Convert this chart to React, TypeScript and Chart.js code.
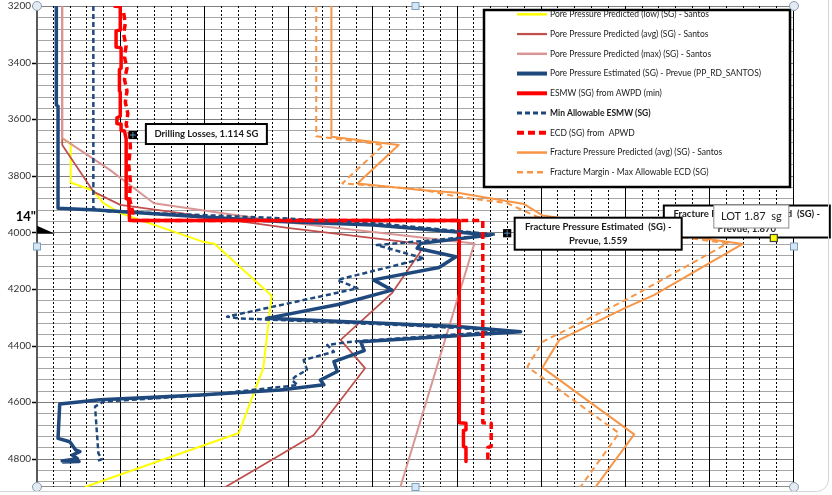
import React, { useEffect, useRef } from "react";
import { Chart, registerables } from "chart.js";

Chart.register(...registerables);

// ---------- axes ----------
const SG_MIN = 1.0;
const SG_MAX = 1.9;
const DEPTH_MIN = 3200;
const DEPTH_MAX = 4900;
const depthTickLabels = [3200, 3400, 3600, 3800, 4000, 4200, 4400, 4600, 4800];
const depthGridStep = 40;
const sgGridStep = 0.02;
const sgMajorEvery = 5;

// ---------- series names ----------
const seriesNames = [
  "Pore Pressure Predicted (low) (SG) - Santos",
  "Pore Pressure Predicted (avg) (SG) - Santos",
  "Pore Pressure Predicted (max) (SG) - Santos",
  "Pore Pressure Estimated (SG) - Prevue (PP_RD_SANTOS)",
  "ESMW (SG) from AWPD (min)",
  "Min Allowable ESMW (SG)",
  "ECD (SG) from  APWD",
  "Fracture Pressure Predicted (avg) (SG) - Santos",
  "Fracture Margin - Max Allowable ECD (SG)",
];

// ---------- series values (depth m, SG) ----------
const ppLowDepth = [3668, 3688, 3824, 3853, 3897, 3932, 4032, 4040, 4224, 4480, 4709, 4900];
const ppLowSG = [1.03, 1.04, 1.04, 1.067, 1.079, 1.099, 1.196, 1.211, 1.279, 1.269, 1.24, 1.057];

const ppAvgDepth = [3200, 3691, 3856, 3903, 3985, 4039, 4068, 4215, 4380, 4480, 4716, 4787, 4900];
const ppAvgSG = [1.03, 1.03, 1.067, 1.099, 1.3, 1.452, 1.456, 1.422, 1.361, 1.39, 1.329, 1.289, 1.224];

const ppMaxDepth = [3200, 3667, 3780, 3897, 3962, 4039, 4900];
const ppMaxSG = [1.03, 1.03, 1.087, 1.139, 1.289, 1.52, 1.432];

const ppPrevueDepth = [
  3200, 3550, 3555, 3915, 3921, 3945, 3962, 3974, 3998, 4009, 4039, 4056, 4086, 4124, 4168, 4204,
  4253, 4304, 4333, 4351, 4387, 4418, 4457, 4492, 4522, 4539, 4557, 4575, 4592, 4607, 4728, 4740,
  4769, 4775, 4787, 4800, 4808, 4810, 4812,
];
const ppPrevueSG = [
  1.023, 1.023, 1.025, 1.025, 1.071, 1.194, 1.289, 1.4, 1.496, 1.539, 1.456, 1.452, 1.498, 1.478,
  1.4, 1.422, 1.361, 1.273, 1.5, 1.575, 1.385, 1.389, 1.353, 1.357, 1.337, 1.341, 1.289, 1.194,
  1.075, 1.027, 1.025, 1.039, 1.046, 1.051, 1.042, 1.048, 1.03, 1.05, 1.03,
];

const esmwDepth = [
  3200, 3203, 3285, 3288, 3345, 3348, 3420, 3425, 3500, 3505, 3590, 3595, 3615, 3618, 3640, 3642,
  3670, 3880, 3885, 3958, 3958, 4673, 4675, 4698, 4700, 4757, 4760, 4810,
];
const esmwSG = [
  1.091, 1.099, 1.099, 1.094, 1.094, 1.1, 1.1, 1.098, 1.098, 1.099, 1.099, 1.095, 1.095, 1.1, 1.1,
  1.104, 1.106, 1.106, 1.109, 1.11, 1.502, 1.502, 1.51, 1.51, 1.507, 1.507, 1.51, 1.51,
];

const minEsmwDepth = [
  3200, 3915, 3925, 3950, 3968, 3995, 4008, 4045, 4092, 4168, 4198, 4298, 4304, 4330, 4348, 4386,
  4398, 4422, 4451, 4486, 4510, 4522, 4540, 4575, 4598, 4616, 4781, 4802, 4810,
];
const minEsmwSG = [
  1.067, 1.067, 1.08, 1.289, 1.404, 1.5, 1.545, 1.404, 1.46, 1.357, 1.381, 1.226, 1.24, 1.45, 1.56,
  1.375, 1.345, 1.353, 1.317, 1.321, 1.307, 1.303, 1.31, 1.2, 1.079, 1.069, 1.073, 1.077, 1.069,
];

const ecdDepth = [
  3225, 3260, 3300, 3340, 3380, 3420, 3460, 3500, 3540, 3580, 3620, 3650, 3700, 3760, 3820, 3880,
  3930, 3958, 3958, 4673, 4675, 4757, 4760, 4805,
];
const ecdSG = [
  1.103, 1.105, 1.103, 1.106, 1.104, 1.107, 1.104, 1.107, 1.105, 1.108, 1.106, 1.11, 1.111, 1.109,
  1.111, 1.11, 1.114, 1.114, 1.53, 1.53, 1.54, 1.54, 1.536, 1.536,
];

const fracAvgDepth = [3200, 3662, 3691, 3827, 3850, 3860, 3900, 3940, 4041, 4221, 4266, 4380, 4478, 4714, 4900];
const fracAvgSG = [1.35, 1.35, 1.43, 1.381, 1.456, 1.5, 1.579, 1.601, 1.839, 1.734, 1.7, 1.621, 1.601, 1.71, 1.664];

const fracMarginDepth = [3200, 3660, 3691, 3827, 3848, 3874, 3897, 3945, 4039, 4239, 4387, 4475, 4710, 4900];
const fracMarginSG = [1.332, 1.332, 1.412, 1.363, 1.456, 1.5, 1.559, 1.595, 1.821, 1.7, 1.601, 1.583, 1.692, 1.646];

// ---------- annotations ----------
const calloutSG = [1.114, 1.559, 1.876];
const calloutDepth = [3656, 4003, 4020];
const calloutLines = [
  ["Drilling Losses, 1.114 SG"],
  ["Fracture Pressure Estimated  (SG) -", "Prevue, 1.559"],
  ["Fracture Pressure Estimated  (SG) -", "Prevue, 1.870"],
];
const lotText = "LOT 1.87  sg";
const shoeDepth = 4005;
const shoeLabel = '14"';

const seriesSGList = [ppLowSG, ppAvgSG, ppMaxSG, ppPrevueSG, esmwSG, minEsmwSG, ecdSG, fracAvgSG, fracMarginSG];
const seriesDepthList = [ppLowDepth, ppAvgDepth, ppMaxDepth, ppPrevueDepth, esmwDepth, minEsmwDepth, ecdDepth, fracAvgDepth, fracMarginDepth];

const seriesStyles = [
  { color: "#FFFF00", width: 2, dash: [] as number[] },
  { color: "#C0504D", width: 1.75, dash: [] as number[] },
  { color: "#D99694", width: 2, dash: [] as number[] },
  { color: "#1F497D", width: 3.5, dash: [] as number[] },
  { color: "#FF0000", width: 3.5, dash: [] as number[] },
  { color: "#1F497D", width: 2.5, dash: [5, 3] },
  { color: "#FF0000", width: 3.5, dash: [7, 4] },
  { color: "#F79646", width: 2, dash: [] as number[] },
  { color: "#F79646", width: 2, dash: [6, 4] },
];

const FONT = "Lato, 'Liberation Sans', sans-serif";

const gridPlugin = {
  id: "wellGrid",
  beforeDraw(chart: any) {
    const { ctx, width, height } = chart;
    ctx.save();
    ctx.fillStyle = "#ffffff";
    ctx.fillRect(0, 0, width, height);
    ctx.restore();
  },
  beforeDatasetsDraw(chart: any) {
    const { ctx, chartArea, scales } = chart;
    const xs = scales.x;
    const ys = scales.y;
    const { left, right, top, bottom } = chartArea;
    ctx.save();
    ctx.lineWidth = 1;
    for (let d = DEPTH_MIN; d < DEPTH_MAX - 1e-6; d += depthGridStep) {
      const py = Math.round(ys.getPixelForValue(d)) + 0.5;
      ctx.strokeStyle = d % 200 === 0 ? "#7f7f7f" : "#a6a6a6";
      ctx.beginPath();
      ctx.moveTo(left, py);
      ctx.lineTo(right, py);
      ctx.stroke();
    }
    ctx.strokeStyle = "#8c8c8c";
    ctx.beginPath();
    ctx.moveTo(left, Math.round(bottom) - 0.5);
    ctx.lineTo(right, Math.round(bottom) - 0.5);
    ctx.stroke();
    const n = Math.round((SG_MAX - SG_MIN) / sgGridStep);
    ctx.strokeStyle = "#000000";
    for (let i = 1; i <= n; i++) {
      const v = SG_MIN + i * sgGridStep;
      const px = Math.round(xs.getPixelForValue(v)) - 0.5;
      const major = i % sgMajorEvery === 0;
      ctx.setLineDash(major ? [] : [2, 2]);
      ctx.beginPath();
      ctx.moveTo(px, top);
      ctx.lineTo(px, bottom);
      ctx.stroke();
    }
    ctx.setLineDash([]);
    ctx.strokeStyle = "#595959";
    ctx.lineWidth = 2;
    ctx.beginPath();
    ctx.moveTo(left, top);
    ctx.lineTo(left, bottom);
    ctx.stroke();
    ctx.strokeStyle = "#000000";
    ctx.lineWidth = 1.5;
    depthTickLabels.forEach((d) => {
      const py = Math.round(ys.getPixelForValue(d)) + 0.5;
      ctx.beginPath();
      ctx.moveTo(left - 5, py);
      ctx.lineTo(left - 1, py);
      ctx.stroke();
    });
    ctx.restore();
  },
};

function drawBoxText(ctx: any, lines: string[], bx: number, by: number, bw: number, bh: number, font: string) {
  ctx.fillStyle = "#ffffff";
  ctx.fillRect(bx, by, bw, bh);
  ctx.strokeStyle = "#000000";
  ctx.lineWidth = 2;
  ctx.strokeRect(bx, by, bw, bh);
  ctx.fillStyle = "#1a1a1a";
  ctx.font = font;
  ctx.textAlign = "center";
  ctx.textBaseline = "middle";
  const cx = bx + bw / 2;
  const lh = 14.3;
  const y0 = by + bh / 2 - ((lines.length - 1) * lh) / 2;
  lines.forEach((t, i) => ctx.fillText(t, cx, y0 + i * lh, bw - 6));
}

function drawMarker(ctx: any, px: number, py: number, fill: string, stroke: string) {
  ctx.fillStyle = fill;
  ctx.fillRect(px - 3.5, py - 3.5, 7, 7);
  ctx.strokeStyle = stroke;
  ctx.lineWidth = 1.2;
  ctx.strokeRect(px - 3.5, py - 3.5, 7, 7);
}

const overlayPlugin = {
  id: "wellOverlay",
  afterDatasetsDraw(chart: any) {
    const { ctx, chartArea, scales } = chart;
    const xs = scales.x;
    const ys = scales.y;
    const { left, right, top, bottom } = chartArea;
    ctx.save();

    // casing shoe
    const sy = ys.getPixelForValue(shoeDepth);
    ctx.fillStyle = "#000000";
    ctx.beginPath();
    ctx.moveTo(left, sy - 8);
    ctx.lineTo(left, sy);
    ctx.lineTo(left + 18, sy);
    ctx.closePath();
    ctx.fill();
    ctx.font = "bold 13px " + FONT;
    ctx.textAlign = "right";
    ctx.textBaseline = "middle";
    ctx.fillText(shoeLabel, left - 1, sy - 17);

    // callout 1
    let mx = xs.getPixelForValue(calloutSG[0]);
    let my = ys.getPixelForValue(calloutDepth[0]);
    drawBoxText(ctx, calloutLines[0], mx + 13, my - 11, 121, 20, "bold 9.5px " + FONT);
    drawMarker(ctx, mx, my, "#000000", "#000000");
    ctx.strokeStyle = "#6fa8dc";
    ctx.lineWidth = 0.8;
    ctx.beginPath();
    ctx.moveTo(mx - 3, my); ctx.lineTo(mx + 3, my);
    ctx.moveTo(mx, my - 3); ctx.lineTo(mx, my + 3);
    ctx.stroke();

    // callout 3 (behind LOT)
    mx = xs.getPixelForValue(calloutSG[2]);
    my = ys.getPixelForValue(calloutDepth[2]);
    drawBoxText(ctx, calloutLines[2], mx - 110, my - 32.5, 166, 32, "bold 9.5px " + FONT);
    // LOT label
    ctx.fillStyle = "#ffffff";
    ctx.fillRect(mx - 60, my - 33, 75, 23);
    ctx.strokeStyle = "#8c8c8c";
    ctx.lineWidth = 1;
    ctx.strokeRect(mx - 60, my - 33, 75, 23);
    ctx.fillStyle = "#222222";
    ctx.font = "11px " + FONT;
    ctx.textAlign = "center";
    ctx.textBaseline = "middle";
    ctx.fillText(lotText, mx - 22.5, my - 21.5);
    drawMarker(ctx, mx, my, "#FFFF00", "#404040");

    // callout 2
    mx = xs.getPixelForValue(calloutSG[1]);
    my = ys.getPixelForValue(calloutDepth[1]);
    drawBoxText(ctx, calloutLines[1], mx + 7.5, my - 15.5, 167, 32, "bold 9.5px " + FONT);
    drawMarker(ctx, mx, my, "#000000", "#000000");
    ctx.strokeStyle = "#6fa8dc";
    ctx.lineWidth = 0.8;
    ctx.beginPath();
    ctx.moveTo(mx - 3, my); ctx.lineTo(mx + 3, my);
    ctx.moveTo(mx, my - 3); ctx.lineTo(mx, my + 3);
    ctx.stroke();

    // legend
    const lx = right - 310;
    const ly = top + 4;
    const lw = 306;
    const lh = 177;
    ctx.fillStyle = "#ffffff";
    ctx.fillRect(lx, ly, lw, lh);
    ctx.strokeStyle = "#000000";
    ctx.lineWidth = 2.5;
    ctx.strokeRect(lx, ly, lw, lh);
    seriesNames.forEach((name, i) => {
      const st = seriesStyles[i];
      const ry = ly + 4.3 + i * 19.75;
      ctx.save();
      ctx.beginPath();
      ctx.rect(lx + 1, ly + 1, lw - 2, lh - 2);
      ctx.clip();
      ctx.strokeStyle = st.color;
      ctx.lineWidth = st.width + 0.5;
      ctx.setLineDash(st.dash);
      ctx.beginPath();
      ctx.moveTo(lx + 33, ry);
      ctx.lineTo(lx + 63, ry);
      ctx.stroke();
      ctx.setLineDash([]);
      ctx.fillStyle = "#1a1a1a";
      ctx.font = (i === 5 ? "bold " : "") + "8.5px " + FONT;
      ctx.textAlign = "left";
      ctx.textBaseline = "middle";
      ctx.fillText(name, lx + 66, ry);
      ctx.restore();
    });

    // selection handles
    const cxm = (left + right) / 2;
    const cym = (top + bottom) / 2;
    const circ = [[left, top], [right, top], [left, bottom], [right, bottom]];
    circ.forEach(([hx, hy]) => {
      ctx.beginPath();
      ctx.arc(hx, hy, 4.5, 0, Math.PI * 2);
      ctx.fillStyle = "#e4eaf1";
      ctx.fill();
      ctx.strokeStyle = "#8a9db3";
      ctx.lineWidth = 1;
      ctx.stroke();
    });
    const sq = [[cxm, top], [cxm, bottom], [left, cym], [right, cym]];
    sq.forEach(([hx, hy]) => {
      ctx.fillStyle = "#d3e7f6";
      ctx.fillRect(hx - 3.5, hy - 3.5, 7, 7);
      ctx.strokeStyle = "#7f9fbd";
      ctx.lineWidth = 1;
      ctx.strokeRect(hx - 3.5, hy - 3.5, 7, 7);
    });

    // outer chart border (rounded)
    ctx.strokeStyle = "#d4d4d4";
    ctx.lineWidth = 1;
    ctx.beginPath();
    ctx.moveTo(828.5, 0);
    ctx.lineTo(828.5, 479);
    ctx.arcTo(828.5, 491.5, 816, 491.5, 12);
    ctx.lineTo(0, 491.5);
    ctx.stroke();

    ctx.restore();
  },
};

export default function App() {
  const canvasRef = useRef<HTMLCanvasElement | null>(null);

  useEffect(() => {
    if (!canvasRef.current) return;
    const datasets = seriesNames.map((name, i) => ({
      label: name,
      data: seriesSGList[i].map((v, k) => ({ x: v, y: seriesDepthList[i][k] })),
      showLine: true,
      borderColor: seriesStyles[i].color,
      backgroundColor: seriesStyles[i].color,
      borderWidth: seriesStyles[i].width,
      borderDash: seriesStyles[i].dash,
      borderJoinStyle: "round" as const,
      pointRadius: 0,
      pointHoverRadius: 0,
      fill: false,
      tension: 0,
      order: seriesNames.length - i,
    }));

    const chart = new Chart(canvasRef.current, {
      type: "scatter",
      data: { datasets },
      options: {
        animation: false,
        responsive: false,
        events: [],
        layout: { padding: { left: 0, top: 6, right: 38, bottom: 8 } },
        plugins: {
          legend: { display: false },
          tooltip: { enabled: false },
          title: { display: false },
        },
        scales: {
          x: {
            type: "linear",
            min: SG_MIN,
            max: SG_MAX,
            display: false,
          },
          y: {
            type: "linear",
            reverse: true,
            min: DEPTH_MIN,
            max: DEPTH_MAX,
            afterBuildTicks: (s: any) => {
              s.ticks = depthTickLabels.map((v) => ({ value: v }));
            },
            afterFit: (s: any) => {
              s.width = 37;
              s.paddingTop = 0;
              s.paddingBottom = 0;
            },
            grid: { display: false, drawTicks: false },
            border: { display: false },
            ticks: {
              autoSkip: false,
              padding: 6,
              color: "#333333",
              font: { family: FONT, size: 10 },
              callback: (v: any) => String(v),
            },
          },
        },
      },
      plugins: [gridPlugin, overlayPlugin],
    });
    return () => chart.destroy();
  }, []);

  return (
    <div style={{ position: "absolute", left: 0, top: 0, width: 832, height: 495, background: "#fff" }}>
      <canvas ref={canvasRef} width={832} height={495} style={{ display: "block", width: 832, height: 495 }} />
    </div>
  );
}
